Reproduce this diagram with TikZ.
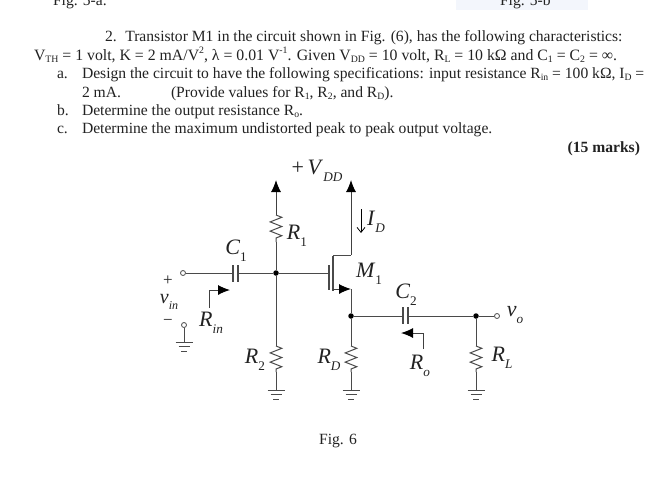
\documentclass[tikz,border=0pt]{standalone}
\usepackage{fontspec}
\setmainfont{Liberation Serif}
\usetikzlibrary{arrows.meta,decorations.pathmorphing}
\definecolor{ink}{HTML}{222222}
\definecolor{wirec}{HTML}{4A4A4A}
\definecolor{paleblue}{HTML}{F3F6FC}
\newcommand{\lo}[1]{\raisebox{-0.18em}{\scalebox{0.62}{#1}}}
\newcommand{\hi}[1]{\raisebox{0.42em}{\scalebox{0.62}{#1}}}
\newcommand{\cs}[2]{\textit{#1}\raisebox{-0.32em}{\scalebox{0.6}{\textit{#2}}}}
\newcommand{\cn}[2]{\textit{#1}\raisebox{-0.32em}{\scalebox{0.6}{#2}}}
\tikzset{
  x=1pt,y=-1pt,
  para/.style={anchor=base west,inner sep=0pt,outer sep=0pt,text=ink,font=\fontsize{15.6}{15.6}\selectfont},
  clab/.style={inner sep=0pt,text=ink,font=\fontsize{22}{22}\selectfont},
  wire/.style={draw=wirec,line width=1pt},
  res/.style={wire,decorate,decoration={zigzag,segment length=9.2pt,amplitude=5.8pt}},
  plate/.style={draw=wirec,line width=1.2pt},
  tipline/.style={draw=black!75,line width=1pt,-{Latex[length=12pt,width=10pt,color=black]}},
  dot/.style={circle,fill=black,inner sep=0pt,minimum size=5.5pt},
  term/.style={circle,draw=wirec,fill=white,line width=0.8pt,inner sep=0pt,minimum size=5pt}
}
\newcommand{\gnd}[1]{%
  \draw[wire] ([xshift=-8.5pt]#1) -- ([xshift=8.5pt]#1);
  \draw[wire] ([xshift=-5.5pt,yshift=-4.5pt]#1) -- ([xshift=5.5pt,yshift=-4.5pt]#1);
  \draw[wire] ([xshift=-3pt,yshift=-9pt]#1) -- ([xshift=3pt,yshift=-9pt]#1);}
\begin{document}
\begin{tikzpicture}
\useasboundingbox (0,0) rectangle (668,491);
\fill[white] (0,0) rectangle (668,491);
\fill[paleblue] (456,0) rectangle (588,10);
% text
\node[para] (figa) at (53,5) {Fig. 5-a.};
\node[para] (figb) at (500,5) {Fig. 5-b};
\node[para] (l1) at (105,41) {2.\hspace{0.55em}Transistor M1 in the circuit shown in Fig. (6), has the following characteristics:};
\node[para,font=\fontsize{15.8}{15.8}\selectfont] (l2) at (34,60) {V\lo{TH} = 1 volt, K = 2 mA/V\hi{2}, λ = 0.01 V\hi{-1}. Given V\lo{DD} = 10 volt, R\lo{L} = 10 kΩ and C\lo{1} = C\lo{2} = ∞.};
\node[para] (la) at (57,78) {a.};
\node[para] (lat) at (82,78) {Design the circuit to have the following specifications: input resistance R\lo{in} = 100 kΩ, I\lo{D} =};
\node[para] (lb2) at (82,97) {2 mA.};
\node[para] (lp) at (171,97) {(Provide values for R\lo{1}, R\lo{2}, and R\lo{D}).};
\node[para] (lb) at (57,115) {b.};
\node[para] (lbt) at (82,115) {Determine the output resistance R\lo{o}.};
\node[para] (lc) at (57,133) {c.};
\node[para] (lct) at (82,133) {Determine the maximum undistorted peak to peak output voltage.};
\node[para,anchor=base east,font=\fontsize{15.6}{15.6}\selectfont\bfseries] (marks) at (640,152) {(15 marks)};
\node[para,anchor=base] (fig6) at (338,444) {Fig. 6};
% coordinates
\coordinate (vddL) at (276,180);
\coordinate (r1t) at (276,215);
\coordinate (r1b) at (276,242);
\node[dot] (ng) at (276,273) {};
\coordinate (r2t) at (276,346);
\coordinate (r2b) at (276,372);
\coordinate (g2) at (276,390);
\node[term] (vin) at (183,273) {};
\coordinate (c1a) at (233,273);
\coordinate (c1b) at (238,273);
\coordinate (gate) at (329,273);
\coordinate (dch) at (333,255);
\coordinate (dcorner) at (351,255);
\coordinate (vddR) at (351,180);
\coordinate (sch) at (333,289);
\coordinate (scorner) at (351,289);
\node[dot] (ns) at (351,316) {};
\coordinate (rdt) at (351,346);
\coordinate (rdb) at (351,372);
\coordinate (gd) at (351,390);
\coordinate (c2a) at (403,316);
\coordinate (c2b) at (408,316);
\node[dot] (no) at (476,316) {};
\node[term] (vo) at (497,316) {};
\coordinate (rlt) at (476,346);
\coordinate (rlb) at (476,372);
\coordinate (gl) at (476,390);
\node[term] (vg) at (184,325) {};
\coordinate (gi) at (184,342);
% wires
\draw[tipline] (r1t) -- (vddL);
\draw[res] (r1t) -- (r1b);
\draw[wire] (r1b) -- (ng);
\draw[wire] (ng) -- (r2t);
\draw[res] (r2t) -- (r2b);
\draw[wire] (r2b) -- (g2);
\gnd{g2}
\draw[wire] (vin) -- (c1a);
\draw[plate] (233,265) -- (233,282);
\draw[plate] (238,265) -- (238,282);
\draw[wire] (c1b) -- (ng);
\draw[wire] (ng) -- (gate);
\draw[plate] (329,265) -- (329,290);
\draw[plate] (333,256) -- (333,291);
\draw[wire] (dch) -- (dcorner);
\draw[tipline] (dcorner) -- (vddR);
\draw[tipline] (sch) -- (scorner);
\draw[wire] (scorner) -- (ns);
\draw[wire] (ns) -- (rdt);
\draw[res] (rdt) -- (rdb);
\draw[wire] (rdb) -- (gd);
\gnd{gd}
\draw[wire] (ns) -- (c2a);
\draw[plate] (403,307) -- (403,324);
\draw[plate] (408,307) -- (408,324);
\draw[wire] (c2b) -- (no);
\draw[wire] (no) -- (vo);
\draw[wire] (no) -- (rlt);
\draw[res] (rlt) -- (rlb);
\draw[wire] (rlb) -- (gl);
\gnd{gl}
\draw[wire] (vg) -- (gi);
\gnd{gi}
% current and port arrows
\coordinate (idt) at (361,209);
\coordinate (idb) at (361,233);
\draw[black,line width=0.8pt,-{Straight Barb[length=5pt,width=8pt]}] (idt) -- (idb);
\coordinate (rina) at (209,308);
\coordinate (rinb) at (209,290);
\coordinate (rinc) at (230,290);
\draw[tipline] (rina) -- (rinb) -- (rinc);
\coordinate (roa) at (423,349);
\coordinate (rob) at (423,333);
\coordinate (roc) at (401,333);
\draw[tipline] (roa) -- (rob) -- (roc);
% labels
\node[clab] (vdd) at (317,171) {+\,\cs{V}{DD}};
\node[clab] (lr1) at (297,236) {\cn{R}{1}};
\node[clab] (lid) at (376,222) {\cs{I}{D}};
\node[clab] (lc1) at (236,251) {\cn{C}{1}};
\node[clab] (lm1) at (369,274) {\cn{M}{1}};
\node[clab] (lc2) at (406,295) {\cn{C}{2}};
\node[clab] (lvo) at (515,315) {\cs{v}{o}};
\node[clab,font=\fontsize{17}{17}\selectfont] (lplus) at (168,281) {+};
\node[clab,font=\fontsize{20}{20}\selectfont] (lvin) at (169,302) {\cs{v}{in}};
\node[clab,font=\fontsize{17}{17}\selectfont] (lminus) at (168,322) {\textminus};
\node[clab] (lrin) at (211,323) {\cs{R}{in}};
\node[clab] (lr2) at (255,360) {\cn{R}{2}};
\node[clab] (lrd) at (329,360) {\cs{R}{D}};
\node[clab] (lro) at (420,366) {\cs{R}{o}};
\node[clab] (lrl) at (502,358) {\cs{R}{L}};
\end{tikzpicture}
\end{document}
